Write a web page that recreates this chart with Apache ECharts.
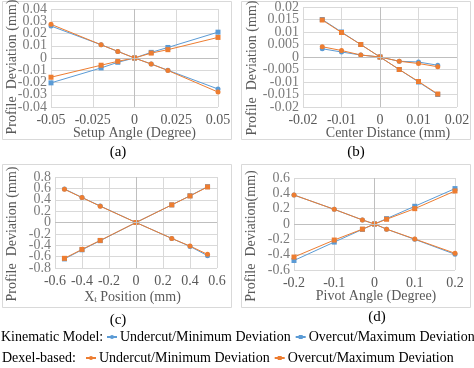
<!DOCTYPE html>
<html><head><meta charset="utf-8">
<script src="https://cdn.jsdelivr.net/npm/echarts@6/dist/echarts.min.js"></script>
<style>html,body{margin:0;padding:0;background:#fff}#c{width:474px;height:368px}</style>
</head><body><div id="c"></div>
<script>
// Panel (a): Setup Angle
const aX = [-0.05, -0.02, -0.01, 0, 0.01, 0.02, 0.05];
const aKinUnder = [0.0261, 0.0108, 0.0054, 0, -0.0049, -0.0100, -0.0253];
const aKinOver  = [-0.0203, -0.0081, -0.0035, 0, 0.0046, 0.0086, 0.0211];
const aDexUnder = [0.0275, 0.0108, 0.0054, 0, -0.0049, -0.0102, -0.0278];
const aDexOver  = [-0.0157, -0.0059, -0.0027, 0, 0.0040, 0.0068, 0.0168];
const aXTicks = [-0.05, -0.025, 0, 0.025, 0.05];
const aYTicks = [-0.04, -0.03, -0.02, -0.01, 0, 0.01, 0.02, 0.03, 0.04];
// Panel (b): Center Distance
const bX = [-0.015, -0.01, -0.005, 0, 0.005, 0.01, 0.015];
const bKinUnder = [0.0033, 0.0020, 0.0008, 0, -0.0017, -0.0020, -0.0033];
const bKinOver  = [0.0150, 0.0100, 0.0050, 0, -0.0050, -0.0100, -0.0150];
const bDexUnder = [0.0041, 0.0026, 0.0008, 0, -0.0017, -0.0026, -0.0039];
const bDexOver  = [0.0148, 0.0098, 0.0050, 0, -0.0050, -0.0098, -0.0148];
const bXTicks = [-0.02, -0.01, 0, 0.01, 0.02];
const bYTicks = [-0.02, -0.015, -0.01, -0.005, 0, 0.005, 0.01, 0.015, 0.02];
// Panel (c): Xt Position
const cX = [-0.53, -0.4, -0.265, 0, 0.265, 0.4, 0.53];
const cKinUnder = [0.59, 0.44, 0.29, 0, -0.28, -0.42, -0.584];
const cKinOver  = [-0.64, -0.48, -0.32, 0, 0.31, 0.47, 0.63];
const cDexUnder = [0.584, 0.438, 0.286, 0, -0.28, -0.415, -0.56];
const cDexOver  = [-0.63, -0.473, -0.315, 0, 0.31, 0.467, 0.625];
const cXTicks = [-0.6, -0.4, -0.2, 0, 0.2, 0.4, 0.6];
const cYTicks = [-0.8, -0.6, -0.4, -0.2, 0, 0.2, 0.4, 0.6, 0.8];
// Panel (d): Pivot Angle
const dX = [-0.2, -0.1, -0.03, 0, 0.03, 0.1, 0.2];
const dKinUnder = [0.378, 0.191, 0.053, 0, -0.067, -0.2, -0.395];
const dKinOver  = [-0.476, -0.236, -0.07, 0, 0.07, 0.231, 0.462];
const dDexUnder = [0.378, 0.191, 0.053, 0, -0.067, -0.196, -0.382];
const dDexOver  = [-0.431, -0.209, -0.067, 0, 0.062, 0.2, 0.431];
const dXTicks = [-0.2, -0.1, 0, 0.1, 0.2];
const dYTicks = [-0.6, -0.4, -0.2, 0, 0.2, 0.4, 0.6];

const xTitles = ['Setup Angle (Degree)', 'Center Distance (mm)', '{x|X}{t|t}{x| Position (mm)}', 'Pivot Angle (Degree)'];
const yTitles = ['Profile  Deviation (mm)', 'Profile  Deviation (mm)', 'Profile  Deviation (mm)', 'Profile  Deviation(mm)'];
const panelLabels = ['(a)', '(b)', '(c)', '(d)'];
const legendNames = ['Undercut/Minimum Deviation', 'Overcut/Maximum Deviation'];
const groupNames = ['Kinematic Model:', 'Dexel-based:'];

const BLUE = '#5b9bd5', ORANGE = '#ed7d31';
const FONT = '"Liberation Serif", "Times New Roman", serif';
const GREY = '#595959', GRID = '#d9d9d9';

const panels = [
  {x: aX, ku: aKinUnder, ko: aKinOver, du: aDexUnder, do_: aDexOver, xt: aXTicks, yt: aYTicks,
   xr: [-0.05, 0.05, 0.025], yr: [-0.04, 0.04, 0.01],
   grid: {left: 51, right: 256, top: 9, bottom: 261}},
  {x: bX, ku: bKinUnder, ko: bKinOver, du: bDexUnder, do_: bDexOver, xt: bXTicks, yt: bYTicks,
   xr: [-0.02, 0.02, 0.01], yr: [-0.02, 0.02, 0.005],
   grid: {left: 303, right: 17, top: 7, bottom: 261}},
  {x: cX, ku: cKinUnder, ko: cKinOver, du: cDexUnder, do_: cDexOver, xt: cXTicks, yt: cYTicks,
   xr: [-0.6, 0.6, 0.2], yr: [-0.8, 0.8, 0.2],
   grid: {left: 55, right: 257, top: 177, bottom: 100}},
  {x: dX, ku: dKinUnder, ko: dKinOver, du: dDexUnder, do_: dDexOver, xt: dXTicks, yt: dYTicks,
   xr: [-0.2, 0.2, 0.1], yr: [-0.6, 0.6, 0.2],
   grid: {left: 294, right: 19, top: 178, bottom: 98}}
];

const fmt = v => String(parseFloat(Number(v).toFixed(4)));
const pair = (xs, ys) => xs.map((v, i) => [v, ys[i]]);
const axisCommon = (r, ticks, margin, showLabel) => ({
  type: 'value', min: r[0], max: r[1], interval: r[2],
  axisLine: {show: false}, axisTick: {show: false},
  splitLine: {show: true, showMinLine: true, showMaxLine: true, lineStyle: {color: GRID, width: 1}},
  axisLabel: {show: showLabel, color: GREY, fontFamily: FONT, fontSize: 14, margin: margin,
    customValues: ticks, hideOverlap: false, showMinLabel: true, showMaxLabel: true,
    formatter: fmt}
});

const grids = [], xAxes = [], yAxes = [], series = [];
panels.forEach((p, i) => {
  grids.push(p.grid);
  xAxes.push(Object.assign(axisCommon(p.xr, p.xt, 6, true), {gridIndex: i}));
  yAxes.push(Object.assign(axisCommon(p.yr, p.yt, 4, false), {gridIndex: i}));
  // y tick labels, placed through the axes' scales
  series.push({
    type: 'scatter', name: 'yticks' + i, xAxisIndex: i, yAxisIndex: i, silent: true,
    symbolSize: 0, data: p.yt.map(v => [p.xr[0], v]),
    label: {show: true, position: 'left', distance: 4, color: GREY, fontFamily: FONT, fontSize: 14,
      formatter: prm => fmt(prm.value[1])},
    emphasis: {disabled: true}, tooltip: {show: false}
  });
  const mk = (name, data, color, sym, extra) => Object.assign({
    type: 'line', name: name, xAxisIndex: i, yAxisIndex: i, data: data,
    symbol: sym, symbolSize: 5, showAllSymbol: true,
    lineStyle: {color: color, width: 1}, itemStyle: {color: color}
  }, extra || {});
  series.push(mk('K|' + legendNames[0], pair(p.x, p.ku), BLUE, 'circle', {
    markLine: {symbol: 'none', silent: true, label: {show: false},
      lineStyle: {color: '#bfbfbf', type: 'solid', width: 1},
      emphasis: {disabled: true},
      data: [{xAxis: 0}, {yAxis: 0}]}
  }));
  series.push(mk('K|' + legendNames[1], pair(p.x, p.ko), BLUE, 'rect'));
  series.push(mk('D|' + legendNames[0], pair(p.x, p.du), ORANGE, 'circle'));
  series.push(mk('D|' + legendNames[1], pair(p.x, p.do_), ORANGE, 'rect'));
});

const txt = (x, y, text, opts) => ({
  type: 'text', x: x, y: y, rotation: (opts && opts.rot) || 0, silent: true,
  style: Object.assign({text: text, fill: GREY, font: '14px ' + FONT, align: 'center', verticalAlign: 'middle'},
    (opts && opts.style) || {})
});

const graphics = [
  {type: 'rect', shape: {x: 2.5, y: 1.5, width: 229, height: 138}, style: {fill: 'none', stroke: GRID, lineWidth: 1}, silent: true},
  {type: 'rect', shape: {x: 241.5, y: 1.5, width: 229, height: 138}, style: {fill: 'none', stroke: GRID, lineWidth: 1}, silent: true},
  {type: 'rect', shape: {x: 2.5, y: 164.5, width: 229, height: 143}, style: {fill: 'none', stroke: GRID, lineWidth: 1}, silent: true},
  {type: 'rect', shape: {x: 241.5, y: 164.5, width: 229, height: 143}, style: {fill: 'none', stroke: GRID, lineWidth: 1}, silent: true},
  txt(12, 67, yTitles[0], {rot: Math.PI / 2}),
  txt(252, 68, yTitles[1], {rot: Math.PI / 2}),
  txt(12, 234, yTitles[2], {rot: Math.PI / 2}),
  txt(251, 236, yTitles[3], {rot: Math.PI / 2}),
  txt(134.5, 133, xTitles[0]),
  txt(388, 133, xTitles[1]),
  {type: 'text', x: 132.5, y: 297, silent: true, style: {
    text: xTitles[2], align: 'center', verticalAlign: 'middle',
    rich: {x: {fill: GREY, fontFamily: FONT, fontSize: 14}, t: {fill: GREY, fontFamily: FONT, fontSize: 9, verticalAlign: 'bottom', padding: [6, 0, 0, 0]}}}},
  txt(376, 296, xTitles[3]),
  txt(118, 152, panelLabels[0], {style: {fill: '#000', font: '15px ' + FONT}}),
  txt(356, 152, panelLabels[1], {style: {fill: '#000', font: '15px ' + FONT}}),
  txt(118, 320, panelLabels[2], {style: {fill: '#000', font: '15px ' + FONT}}),
  txt(377, 317, panelLabels[3], {style: {fill: '#000', font: '15px ' + FONT}}),
  txt(1, 337, groupNames[0], {style: {fill: '#000', align: 'left'}}),
  txt(2, 358, groupNames[1], {style: {fill: '#000', align: 'left'}})
];

const legendCommon = {
  orient: 'horizontal', itemWidth: 10, itemHeight: 5, itemGap: 4, padding: 0, width: 420,
  textStyle: {color: '#000', fontFamily: FONT, fontSize: 14, padding: [0, 0, 0, -2]},
  formatter: n => n.split('|')[1], selectedMode: false
};

const chart = echarts.init(document.getElementById('c'), null, {renderer: 'canvas'});
chart.setOption({
  animation: false,
  backgroundColor: '#fff',
  grid: grids, xAxis: xAxes, yAxis: yAxes, series: series,
  legend: [
    Object.assign({}, legendCommon, {left: 106, top: 330, data: ['K|' + legendNames[0], 'K|' + legendNames[1]]}),
    Object.assign({}, legendCommon, {left: 85, top: 351, data: ['D|' + legendNames[0], 'D|' + legendNames[1]]})
  ],
  graphic: graphics
});
</script></body></html>
